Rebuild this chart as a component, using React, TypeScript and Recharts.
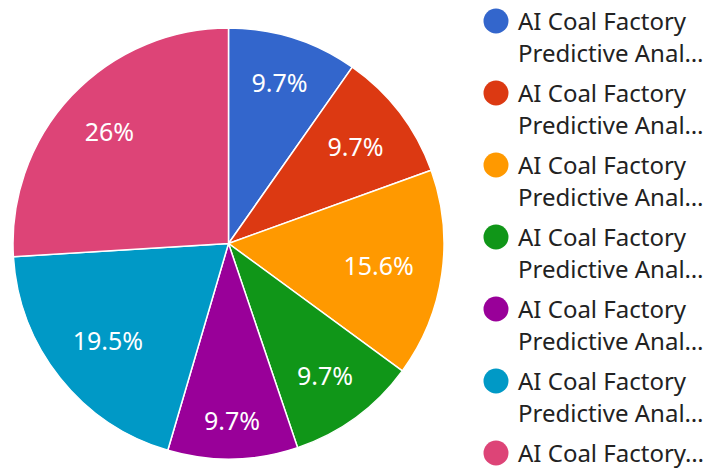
import React from 'react';
import { Cell, Legend, Pie, PieChart } from 'recharts';

const categories = [
  'AI Coal Factory Predictive Analytics A',
  'AI Coal Factory Predictive Analytics B',
  'AI Coal Factory Predictive Analytics C',
  'AI Coal Factory Predictive Analytics D',
  'AI Coal Factory Predictive Analytics E',
  'AI Coal Factory Predictive Analytics F',
  'AI Coal Factory Optimization',
];
const legendLines = [
  ['AI Coal Factory', 'Predictive Anal…'],
  ['AI Coal Factory', 'Predictive Anal…'],
  ['AI Coal Factory', 'Predictive Anal…'],
  ['AI Coal Factory', 'Predictive Anal…'],
  ['AI Coal Factory', 'Predictive Anal…'],
  ['AI Coal Factory', 'Predictive Anal…'],
  ['AI Coal Factory…'],
];
const values = [15, 15, 24, 15, 15, 30, 40];
const COLORS = ['#3366cc', '#dc3912', '#ff9900', '#109618', '#990099', '#0099c6', '#dd4477'];

const FONT = '"Noto Sans", "Open Sans", sans-serif';
const LABEL_SIZE = 25;

const data = categories.map((name, i) => ({ name, value: values[i] }));

const RAD = Math.PI / 180;

let ctx: CanvasRenderingContext2D | null = null;
function textWidth(s: string) {
  if (!ctx) ctx = document.createElement('canvas').getContext('2d');
  if (!ctx) return s.length * LABEL_SIZE * 0.55;
  ctx.font = `${LABEL_SIZE}px ${FONT}`;
  return ctx.measureText(s).width;
}

// google-style placement: push the label out until its far corner hits a ring
function renderLabel(props: any) {
  const { cx, cy, midAngle, outerRadius, percent } = props;
  const pct = Math.round(percent * 1000) / 10;
  const txt = `${pct}%`;
  const dx = Math.cos(midAngle * RAD);
  const dy = -Math.sin(midAngle * RAD);
  const a = Math.sign(dx) * textWidth(txt) / 2;
  const b = Math.sign(dy) * LABEL_SIZE * 0.36;
  const R = outerRadius * 0.872;
  const p = dx * a + dy * b;
  const t = -p + Math.sqrt(p * p - (a * a + b * b - R * R));
  return (
    <text
      x={cx + t * dx}
      y={cy + t * dy}
      fill="#ffffff"
      textAnchor="middle"
      dominantBaseline="central"
      fontSize={LABEL_SIZE}
      fontFamily={FONT}
    >
      {txt}
    </text>
  );
}

function LegendBox() {
  return (
    <svg width={228} height={468}>
      {legendLines.map((lines, i) => {
        const cy = 21 + i * 72;
        return (
          <g key={i}>
            <circle cx={14} cy={cy} r={12.5} fill={COLORS[i]} />
            {lines.map((line, j) => (
              <text
                key={j}
                x={36}
                y={cy + 9 + j * 32}
                fontSize={24}
                fontFamily={FONT}
                fill="#222222"
              >
                {line}
              </text>
            ))}
          </g>
        );
      })}
    </svg>
  );
}

export default function App() {
  return (
    <div style={{ position: 'absolute', left: 0, top: 0, width: 710, height: 468, background: '#fff' }}>
      <PieChart width={710} height={468} margin={{ top: 0, right: 0, bottom: 0, left: 0 }}>
        <Pie
          data={data}
          dataKey="value"
          nameKey="name"
          cx={228.5}
          cy={243.5}
          outerRadius={215.5}
          startAngle={90}
          endAngle={-270}
          stroke="#ffffff"
          strokeWidth={1.5}
          label={renderLabel}
          labelLine={false}
          isAnimationActive={false}
        >
          {data.map((d, i) => (
            <Cell key={d.name} fill={COLORS[i]} />
          ))}
        </Pie>
        <Legend
          layout="vertical"
          align="right"
          verticalAlign="top"
          content={() => <LegendBox />}
          wrapperStyle={{ left: 482, top: 0, width: 228, height: 468 }}
        />
      </PieChart>
    </div>
  );
}
